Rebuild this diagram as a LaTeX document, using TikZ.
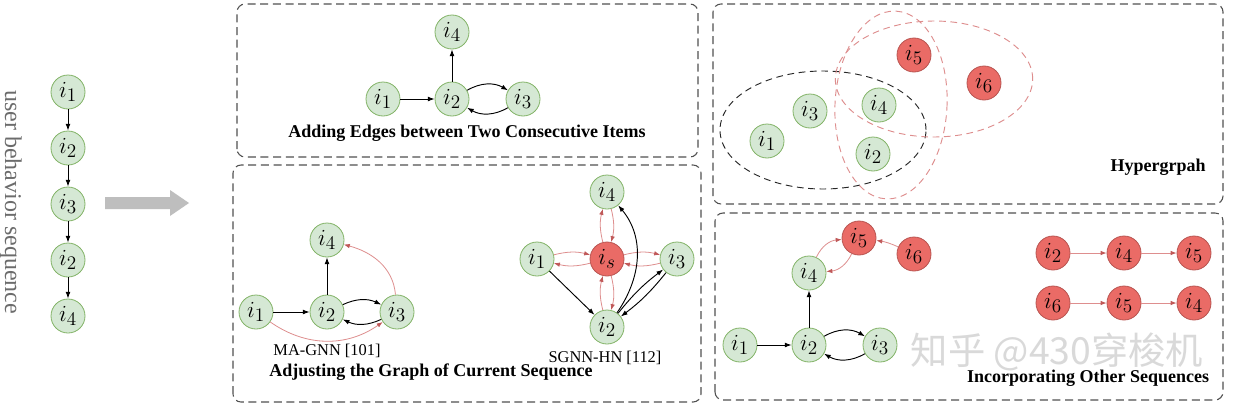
\documentclass[tikz,border=0pt]{standalone}
\usepackage{fontspec}
\setmainfont{Liberation Serif}
\newfontfamily\cjkfont{Noto Sans CJK SC}
\usetikzlibrary{arrows.meta,shapes.geometric}
\definecolor{gfill}{HTML}{D5E8D4}
\definecolor{gline}{HTML}{82B366}
\definecolor{rfill}{HTML}{EA6B66}
\definecolor{rline}{HTML}{B85450}
\definecolor{rarrow}{HTML}{DE8E8E}
\definecolor{rtip}{HTML}{C05858}
\definecolor{panelc}{HTML}{505050}
\definecolor{arrowgray}{HTML}{BEBEBE}
\begin{document}
\begin{tikzpicture}[x=0.75pt,y=0.75pt,
  gn/.style={circle,draw=gline,fill=gfill,line width=0.6pt,minimum size=25.5pt,inner sep=0pt,font=\fontsize{19}{21}\selectfont},
  rn/.style={gn,draw=rline,fill=rfill},
  ea/.style={-{Latex[length=5pt,width=3.6pt]},line width=0.7pt,draw=black},
  ra/.style={-{Latex[length=4.5pt,width=3.4pt,color=rtip]},line width=0.6pt,draw=rarrow},
  panel/.style={draw=panelc,line width=0.8pt,dash pattern=on 6pt off 3.5pt,rounded corners=6pt},
  capt/.style={font=\bfseries\fontsize{13.5}{15}\selectfont},
  lab/.style={font=\fontsize{12.3}{14}\selectfont},
  hyper/.style={ellipse,dash pattern=on 5pt off 3.5pt,line width=0.7pt,inner sep=0pt}]
\useasboundingbox (0,0) rectangle (1234,405);
\fill[white] (0,0) rectangle (1234,405);

% ---- left column
\node[rotate=-90,text=gray!85!black,font=\fontsize{18}{20}\selectfont] (ubs) at (11,203) {user behavior sequence};
\node[gn] (L1) at (68,313) {$i_1$};
\node[gn] (L2) at (68,257) {$i_2$};
\node[gn] (L3) at (68,201) {$i_3$};
\node[gn] (L4) at (68,145) {$i_2$};
\node[gn] (L5) at (68,89) {$i_4$};
\draw[ea] (L1) -- (L2);
\draw[ea] (L2) -- (L3);
\draw[ea] (L3) -- (L4);
\draw[ea] (L4) -- (L5);
\fill[arrowgray] (105,196) -- (170,196) -- (170,189) -- (189,202) -- (170,215) -- (170,208) -- (105,208) -- cycle;

% ---- panels
\draw[panel] (237,248) rectangle (698,401);
\draw[panel] (233,3) rectangle (701,240);
\draw[panel] (713,201) rectangle (1223,401);
\draw[panel] (715,5) rectangle (1223,192);

% ---- top middle
\node[gn] (A4) at (452,373) {$i_4$};
\node[gn] (A1) at (383,306) {$i_1$};
\node[gn] (A2) at (452,306) {$i_2$};
\node[gn] (A3) at (523,306) {$i_3$};
\draw[ea] (A1) -- (A2);
\draw[ea] (A2) -- (A4);
\draw[ea] (A2) to[bend left=30] (A3);
\draw[ea] (A3) to[bend left=30] (A2);
\node[capt] (capA) at (467,272) {Adding Edges between Two Consecutive Items};

% ---- bottom middle: MA-GNN
\node[gn] (B4) at (327,165) {$i_4$};
\node[gn] (B1) at (256,93) {$i_1$};
\node[gn] (B2) at (327,93) {$i_2$};
\node[gn] (B3) at (397,93) {$i_3$};
\draw[ea] (B1) -- (B2);
\draw[ea] (B2) -- (B4);
\draw[ea] (B2) to[bend left=25] (B3);
\draw[ea] (B3) to[bend left=25] (B2);
\draw[ra] (B3) to[out=95,in=-15] (B4);
\draw[ra] (B1) to[out=-35,in=-145] (B3);
\node[lab] (labB) at (327,54) {MA-GNN [101]};

% ---- bottom middle: SGNN-HN
\node[gn] (C4) at (607,213) {$i_4$};
\node[gn] (C1) at (537,146) {$i_1$};
\node[rn] (Cs) at (607,146) {$i_s$};
\node[gn] (C3) at (677,146) {$i_3$};
\node[gn] (C2) at (607,78) {$i_2$};
\draw[ra] (C1) to[bend left=14] (Cs);
\draw[ra] (Cs) to[bend left=14] (C1);
\draw[ra] (Cs) to[bend left=14] (C3);
\draw[ra] (C3) to[bend left=14] (Cs);
\draw[ra] (Cs) to[bend left=14] (C4);
\draw[ra] (C4) to[bend left=14] (Cs);
\draw[ra] (C2) to[bend left=14] (Cs);
\draw[ra] (Cs) to[bend left=14] (C2);
\draw[ea] (C1) -- (C2);
\draw[ea] (C2) to[out=55,in=-50] (C4);
\draw[ea] (C2) to[bend left=7] (C3);
\draw[ea] (C3) to[bend left=7] (C2);
\node[lab] (labC) at (605,47) {SGNN-HN [112]};
\node[capt] (capB) at (431,33) {Adjusting the Graph of Current Sequence};

% ---- top right: hypergraph
\node[hyper,draw=black!85,minimum width=154.5pt,minimum height=88.5pt] (EB) at (823,275) {};
\node[hyper,draw=rarrow,minimum width=84pt,minimum height=141pt,rotate=-3] (EV) at (891,300) {};
\node[hyper,draw=rarrow,minimum width=148pt,minimum height=87pt] (EH) at (934,326) {};
\node[rn] (H5) at (914,350) {$i_5$};
\node[rn] (H6) at (984,322) {$i_6$};
\node[gn] (H3) at (810,294) {$i_3$};
\node[gn] (H4) at (879,300) {$i_4$};
\node[gn] (H1) at (767,264) {$i_1$};
\node[gn] (H2) at (873,251) {$i_2$};
\node[capt] (capH) at (1158,238) {Hypergrpah};

% ---- bottom right
\node[text=gray!30,font=\cjkfont\fontsize{28}{30}\selectfont] (wm) at (1057,53) {知乎 @430穿梭机};
\node[gn] (D1) at (740,60) {$i_1$};
\node[gn] (D2) at (809,60) {$i_2$};
\node[gn] (D3) at (880,60) {$i_3$};
\node[gn] (D4) at (809,132) {$i_4$};
\node[rn] (D5) at (859,167) {$i_5$};
\node[rn] (D6) at (914,151) {$i_6$};
\draw[ea] (D1) -- (D2);
\draw[ea] (D2) -- (D4);
\draw[ea] (D2) to[bend left=30] (D3);
\draw[ea] (D3) to[bend left=30] (D2);
\draw[ra] (D4) to[bend left=30] (D5);
\draw[ra] (D5) to[bend left=30] (D4);
\draw[ra] (D6) to[bend right=8] (D5);
\node[rn] (E1) at (1053,152) {$i_2$};
\node[rn] (E2) at (1124,152) {$i_4$};
\node[rn] (E3) at (1194,152) {$i_5$};
\node[rn] (F1) at (1053,102) {$i_6$};
\node[rn] (F2) at (1124,102) {$i_5$};
\node[rn] (F3) at (1194,102) {$i_4$};
\draw[ra] (E1) -- (E2);
\draw[ra] (E2) -- (E3);
\draw[ra] (F1) -- (F2);
\draw[ra] (F2) -- (F3);
\node[capt] (capD) at (1088,27) {Incorporating Other Sequences};
\end{tikzpicture}
\end{document}
